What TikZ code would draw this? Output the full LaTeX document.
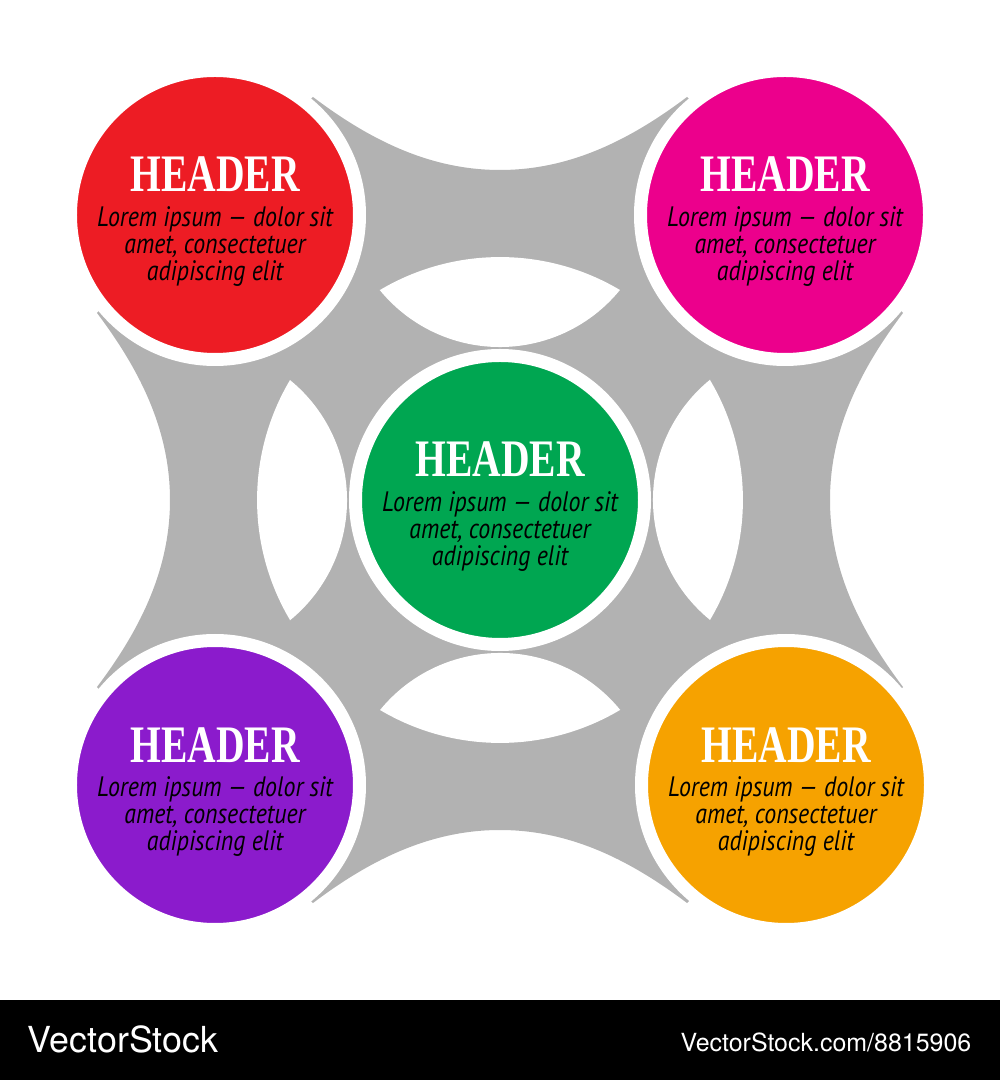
\documentclass[tikz,border=0pt]{standalone}
\usepackage{fontspec}
\setmainfont{Liberation Serif}
\newfontfamily\headfont[FakeStretch=0.75]{Liberation Serif}
\newfontfamily\bodyfont[FakeStretch=0.85]{PT Sans}
\newfontfamily\barfont{TeX Gyre Heros}
\definecolor{bandgray}{RGB}{178,178,178}
\definecolor{redc}{RGB}{237,28,36}
\definecolor{pinkc}{RGB}{236,0,140}
\definecolor{greenc}{RGB}{0,166,81}
\definecolor{violetc}{RGB}{139,27,204}
\definecolor{orangec}{RGB}{246,162,0}
\tikzset{
  bubble/.style={circle, draw=white, line width=1.3mm, minimum size=28.9mm, inner sep=0pt},
  headtxt/.style={text=white, font=\headfont\bfseries\fontsize{15}{15}\selectfont, anchor=base, inner sep=0pt},
  bodytxt/.style={font=\bodyfont\itshape\fontsize{8}{7.7}\selectfont, align=center, anchor=base, inner sep=0pt},
  bartxt/.style={text=white, inner sep=0pt}
}
\begin{document}
\begin{tikzpicture}
\useasboundingbox (-5,-5.8) rectangle (5,5);

% Gray cross with hollow sides
\fill[bandgray] (-1.87,4.03) .. controls (-1.3,3.6) and (-0.7,3.3) .. (0,3.3) .. controls (0.7,3.3) and (1.3,3.6) .. (1.87,4.03)
  -- (4.03,1.87) .. controls (3.6,1.3) and (3.3,0.7) .. (3.3,0) .. controls (3.3,-0.7) and (3.6,-1.3) .. (4.03,-1.87)
  -- (1.87,-4.03) .. controls (1.3,-3.6) and (0.7,-3.3) .. (0,-3.3) .. controls (-0.7,-3.3) and (-1.3,-3.6) .. (-1.87,-4.03)
  -- (-4.03,-1.87) .. controls (-3.6,-1.3) and (-3.3,-0.7) .. (-3.3,0) .. controls (-3.3,0.7) and (-3.6,1.3) .. (-4.03,1.87)
  -- cycle;

% White lenses round the middle
\foreach \a in {0,90,180,270}
  \fill[white, rotate=\a] (-1.2,2.1) arc[start angle=120.7, end angle=59.3, radius=2.35]
    arc[start angle=-39.2, end angle=-140.8, radius=1.55] -- cycle;

\foreach \n/\x/\y/\c in {red/-2.85/2.85/redc, pink/2.85/2.85/pinkc, green/0/0/greenc, violet/-2.85/-2.85/violetc, orange/2.86/-2.85/orangec} {
  \node[bubble, fill=\c] (\n) at (\x,\y) {};
  \node[headtxt] (\n-head) at (\x,\y+0.23) {HEADER};
  \node[bodytxt] (\n-body) at (\x,\y-0.655) {Lorem ipsum — dolor sit\\amet, consectetuer\\adipiscing elit};
}

% Stock bar
\fill[black] (-5,-5.8) rectangle (5,-5);
\node[bartxt, anchor=base west, font=\barfont\fontsize{10.2}{12}\selectfont] (brand) at (-4.73,-5.52) {VectorStock};
\node[bartxt, anchor=base east, font=\barfont\fontsize{7.1}{9}\selectfont] (link) at (4.72,-5.51) {VectorStock.com/8815906};
\end{tikzpicture}
\end{document}
